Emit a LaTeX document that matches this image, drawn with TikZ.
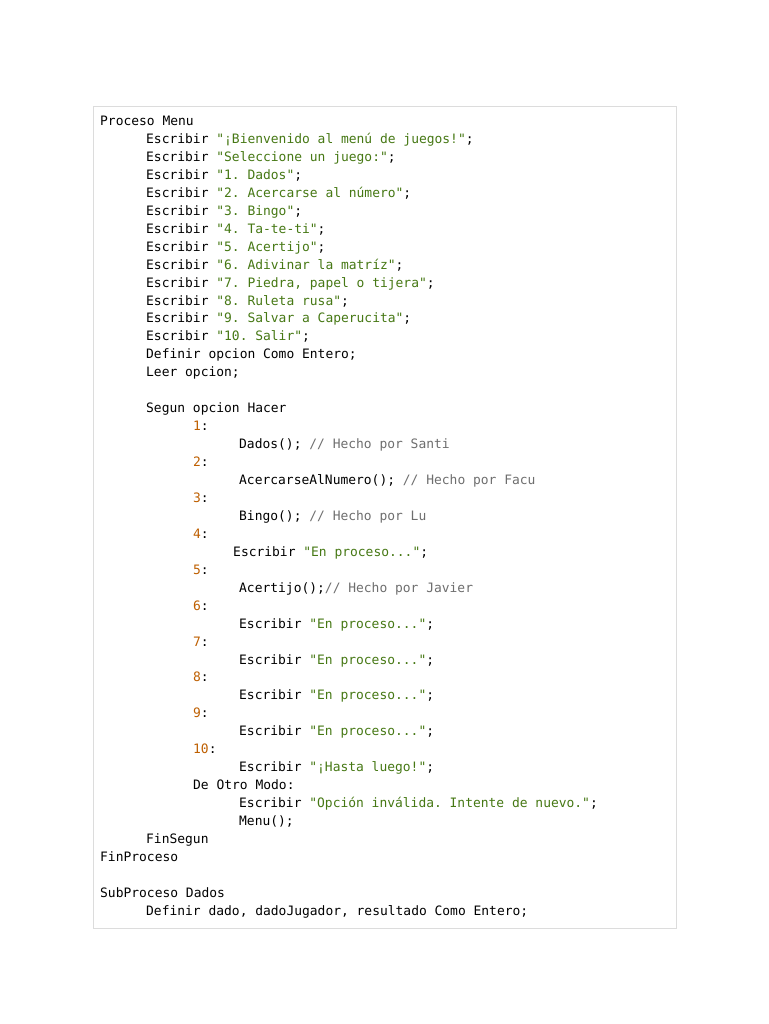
\documentclass[tikz,border=0pt]{standalone}
\usepackage{fontspec}
\setmonofont{DejaVu Sans Mono}[Scale=1.0]
\definecolor{strc}{RGB}{70,120,20}
\definecolor{numc}{RGB}{190,95,0}
\definecolor{comc}{RGB}{110,110,110}
\definecolor{framec}{RGB}{220,220,220}
\newcommand{\Sq}[1]{\textcolor{strc}{#1}}
\newcommand{\Nq}[1]{\textcolor{numc}{#1}}
\newcommand{\Cq}[1]{\textcolor{comc}{#1}}
\tikzset{codeline/.style={anchor=base west,inner sep=0pt,font=\ttfamily\fontsize{12.95}{14}\selectfont}}
\begin{document}
\begin{tikzpicture}[x=1pt,y=1pt]
\useasboundingbox (0,0) rectangle (768,-1024);
\fill[white] (0,0) rectangle (768,-1024);
\draw[framec] (93.5,-106.5) rectangle (676,-928);
\def\LH{17.95}
\newcommand{\cl}[4]{\node[codeline] (#1) at (#2,{-125.5-\LH*#3}) {#4};}
\cl{l0}{100}{0}{Proceso Menu}
\cl{l1}{146}{1}{Escribir \Sq{"¡Bienvenido al menú de juegos!"};}
\cl{l2}{146}{2}{Escribir \Sq{"Seleccione un juego:"};}
\cl{l3}{146}{3}{Escribir \Sq{"1. Dados"};}
\cl{l4}{146}{4}{Escribir \Sq{"2. Acercarse al número"};}
\cl{l5}{146}{5}{Escribir \Sq{"3. Bingo"};}
\cl{l6}{146}{6}{Escribir \Sq{"4. Ta-te-ti"};}
\cl{l7}{146}{7}{Escribir \Sq{"5. Acertijo"};}
\cl{l8}{146}{8}{Escribir \Sq{"6. Adivinar la matríz"};}
\cl{l9}{146}{9}{Escribir \Sq{"7. Piedra, papel o tijera"};}
\cl{l10}{146}{10}{Escribir \Sq{"8. Ruleta rusa"};}
\cl{l11}{146}{11}{Escribir \Sq{"9. Salvar a Caperucita"};}
\cl{l12}{146}{12}{Escribir \Sq{"10. Salir"};}
\cl{l13}{146}{13}{Definir opcion Como Entero;}
\cl{l14}{146}{14}{Leer opcion;}
\cl{l16}{146}{16}{Segun opcion Hacer}
\cl{l17}{193}{17}{\Nq{1}:}
\cl{l18}{239}{18}{Dados(); \Cq{// Hecho por Santi}}
\cl{l19}{193}{19}{\Nq{2}:}
\cl{l20}{239}{20}{AcercarseAlNumero(); \Cq{// Hecho por Facu}}
\cl{l21}{193}{21}{\Nq{3}:}
\cl{l22}{239}{22}{Bingo(); \Cq{// Hecho por Lu}}
\cl{l23}{193}{23}{\Nq{4}:}
\cl{l24}{233}{24}{Escribir \Sq{"En proceso..."};}
\cl{l25}{193}{25}{\Nq{5}:}
\cl{l26}{239}{26}{Acertijo();\Cq{// Hecho por Javier}}
\cl{l27}{193}{27}{\Nq{6}:}
\cl{l28}{239}{28}{Escribir \Sq{"En proceso..."};}
\cl{l29}{193}{29}{\Nq{7}:}
\cl{l30}{239}{30}{Escribir \Sq{"En proceso..."};}
\cl{l31}{193}{31}{\Nq{8}:}
\cl{l32}{239}{32}{Escribir \Sq{"En proceso..."};}
\cl{l33}{193}{33}{\Nq{9}:}
\cl{l34}{239}{34}{Escribir \Sq{"En proceso..."};}
\cl{l35}{193}{35}{\Nq{10}:}
\cl{l36}{239}{36}{Escribir \Sq{"¡Hasta luego!"};}
\cl{l37}{193}{37}{De Otro Modo:}
\cl{l38}{239}{38}{Escribir \Sq{"Opción inválida. Intente de nuevo."};}
\cl{l39}{239}{39}{Menu();}
\cl{l40}{146}{40}{FinSegun}
\cl{l41}{100}{41}{FinProceso}
\cl{l43}{100}{43}{SubProceso Dados}
\cl{l44}{146}{44}{Definir dado, dadoJugador, resultado Como Entero;}
\end{tikzpicture}
\end{document}
